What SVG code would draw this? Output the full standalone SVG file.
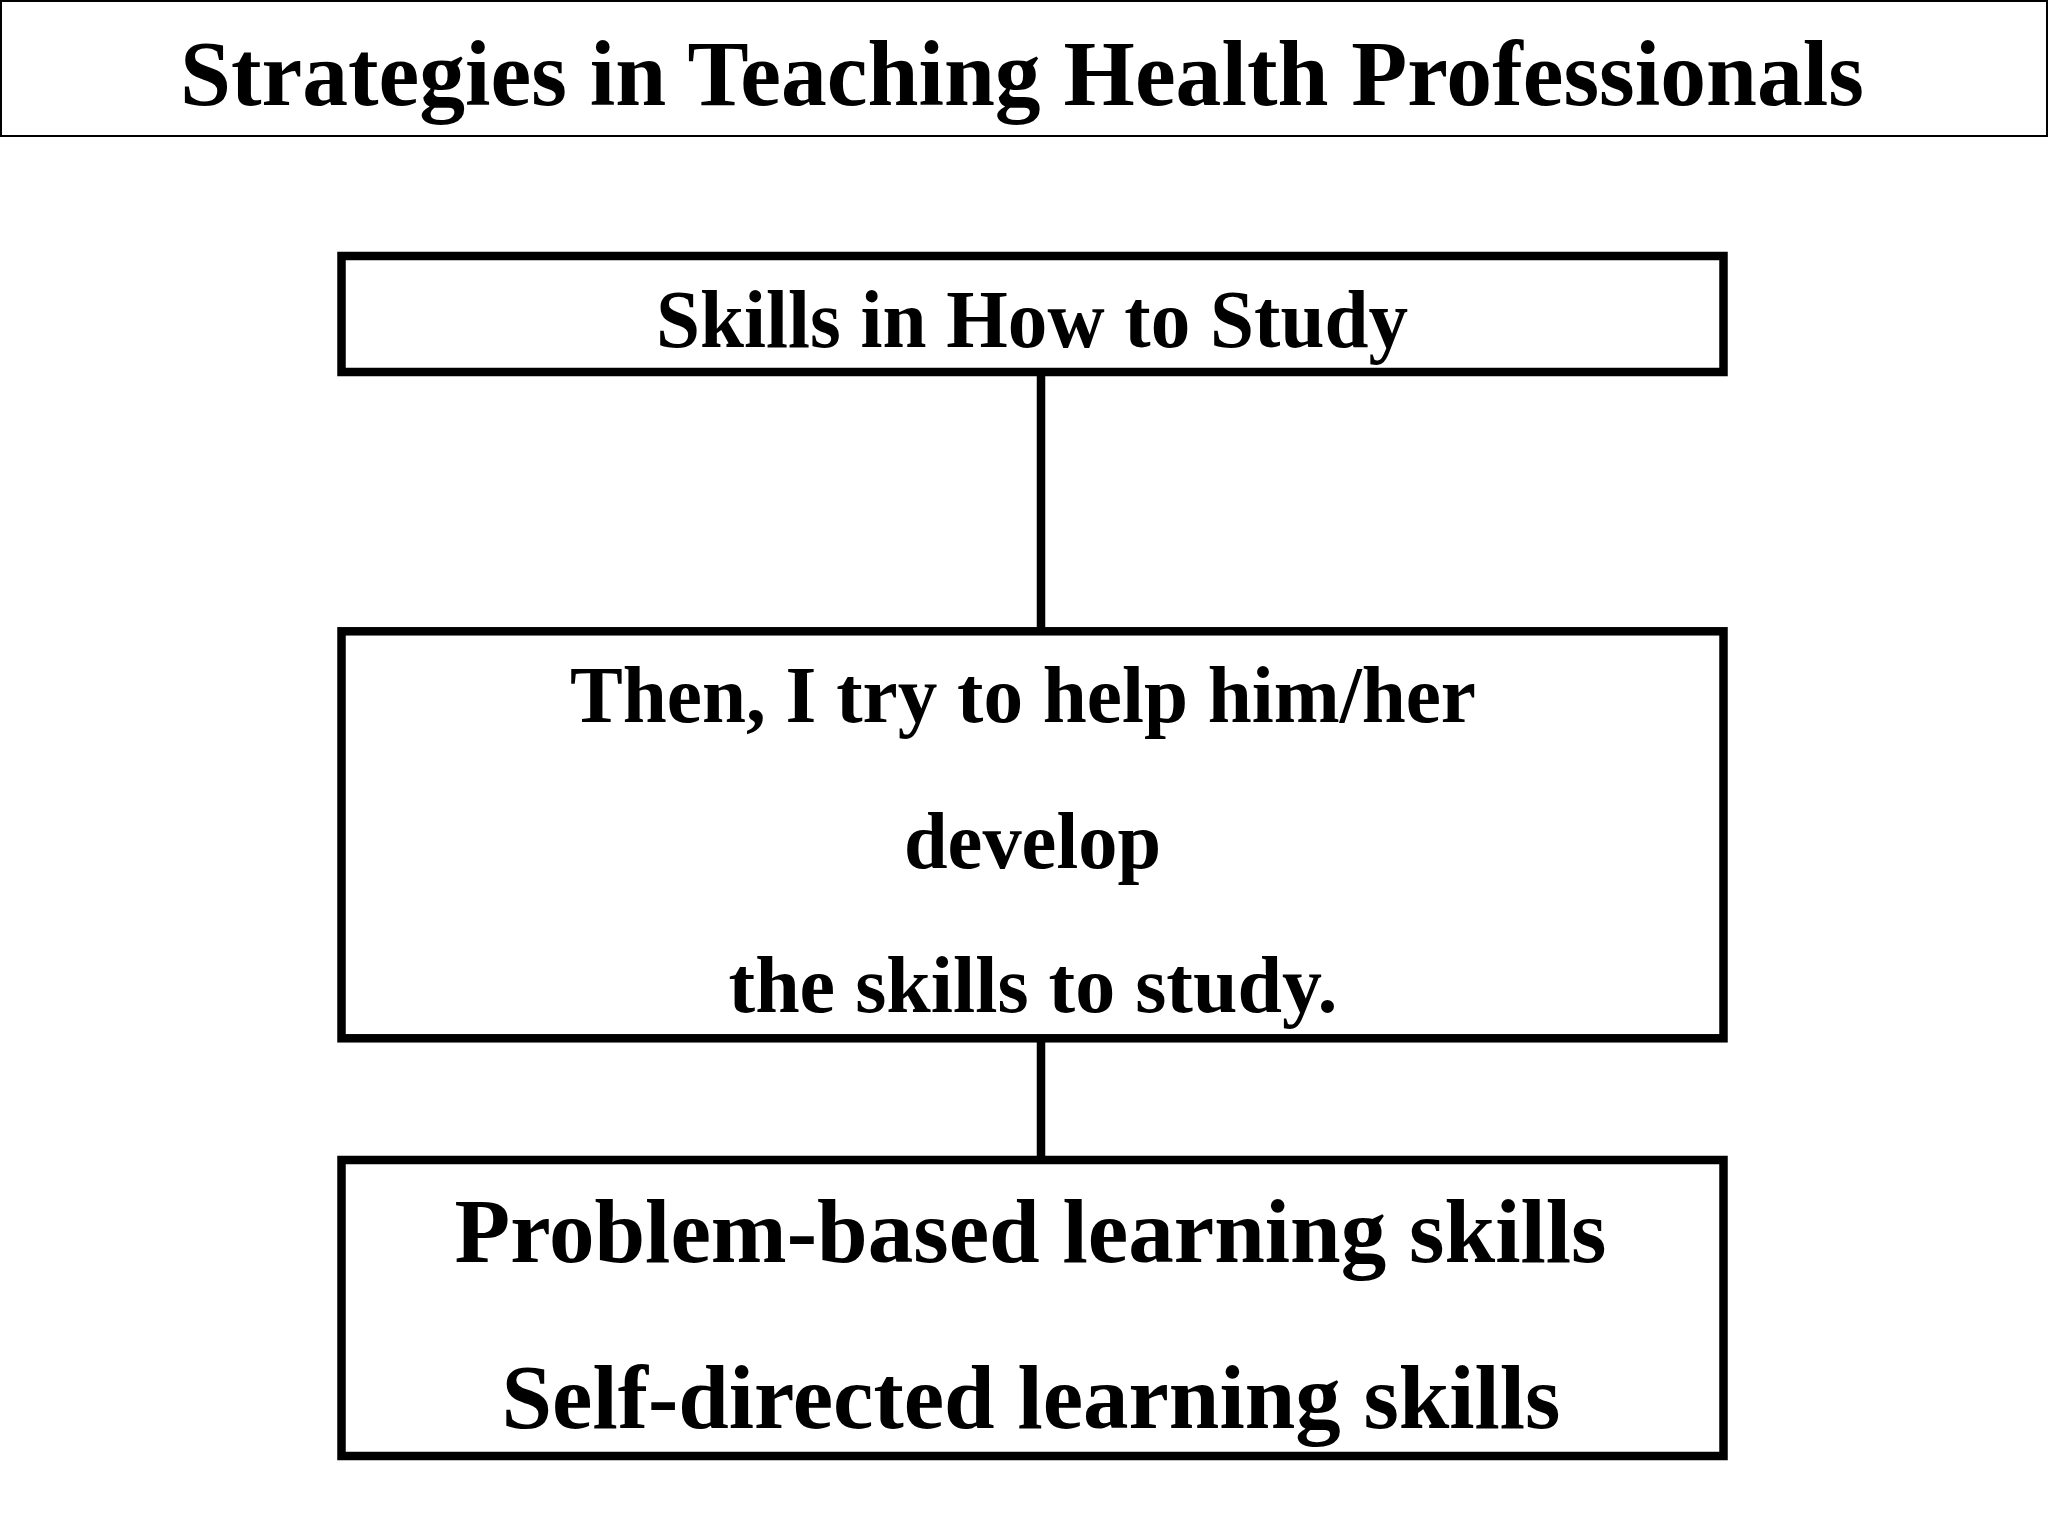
<svg xmlns="http://www.w3.org/2000/svg" width="2048" height="1536" viewBox="0 0 2048 1536">
<style>
.t{font-family:"Liberation Serif","Times New Roman",serif;font-weight:bold;fill:#000;text-anchor:middle}
.box{fill:#fff;stroke:#000;stroke-width:8.5}
.conn{stroke:#000;stroke-width:8.5;fill:none}
</style>
<rect width="2048" height="1536" fill="#fff"/>
<g id="title">
<rect x="1" y="1" width="2046" height="135" fill="#fff" stroke="#000" stroke-width="2"/>
<text class="t" x="1022" y="105" font-size="93" textLength="1684" lengthAdjust="spacingAndGlyphs">Strategies in Teaching Health Professionals</text>
</g>
<g id="connectors">
<line class="conn" x1="1041" y1="372" x2="1041" y2="631"/>
<line class="conn" x1="1041" y1="1038" x2="1041" y2="1160"/>
</g>
<g id="node-skills">
<rect class="box" x="341.5" y="256" width="1382" height="116"/>
<text class="t" x="1032" y="347" font-size="82" textLength="752" lengthAdjust="spacingAndGlyphs">Skills in How to Study</text>
</g>
<g id="node-help">
<rect class="box" x="341.5" y="631.3" width="1382" height="407"/>
<text class="t" x="1023" y="722" font-size="81" textLength="906" lengthAdjust="spacingAndGlyphs">Then, I try to help him/her</text>
<text class="t" x="1032.5" y="868" font-size="81" textLength="257" lengthAdjust="spacingAndGlyphs">develop</text>
<text class="t" x="1033" y="1012" font-size="81" textLength="609" lengthAdjust="spacingAndGlyphs">the skills to study.</text>
</g>
<g id="node-pbl">
<rect class="box" x="341.5" y="1160" width="1382" height="296"/>
<text class="t" x="1030.5" y="1262" font-size="91" textLength="1152" lengthAdjust="spacingAndGlyphs">Problem-based learning skills</text>
<text class="t" x="1031" y="1428" font-size="91" textLength="1059" lengthAdjust="spacingAndGlyphs">Self-directed learning skills</text>
</g>
</svg>
